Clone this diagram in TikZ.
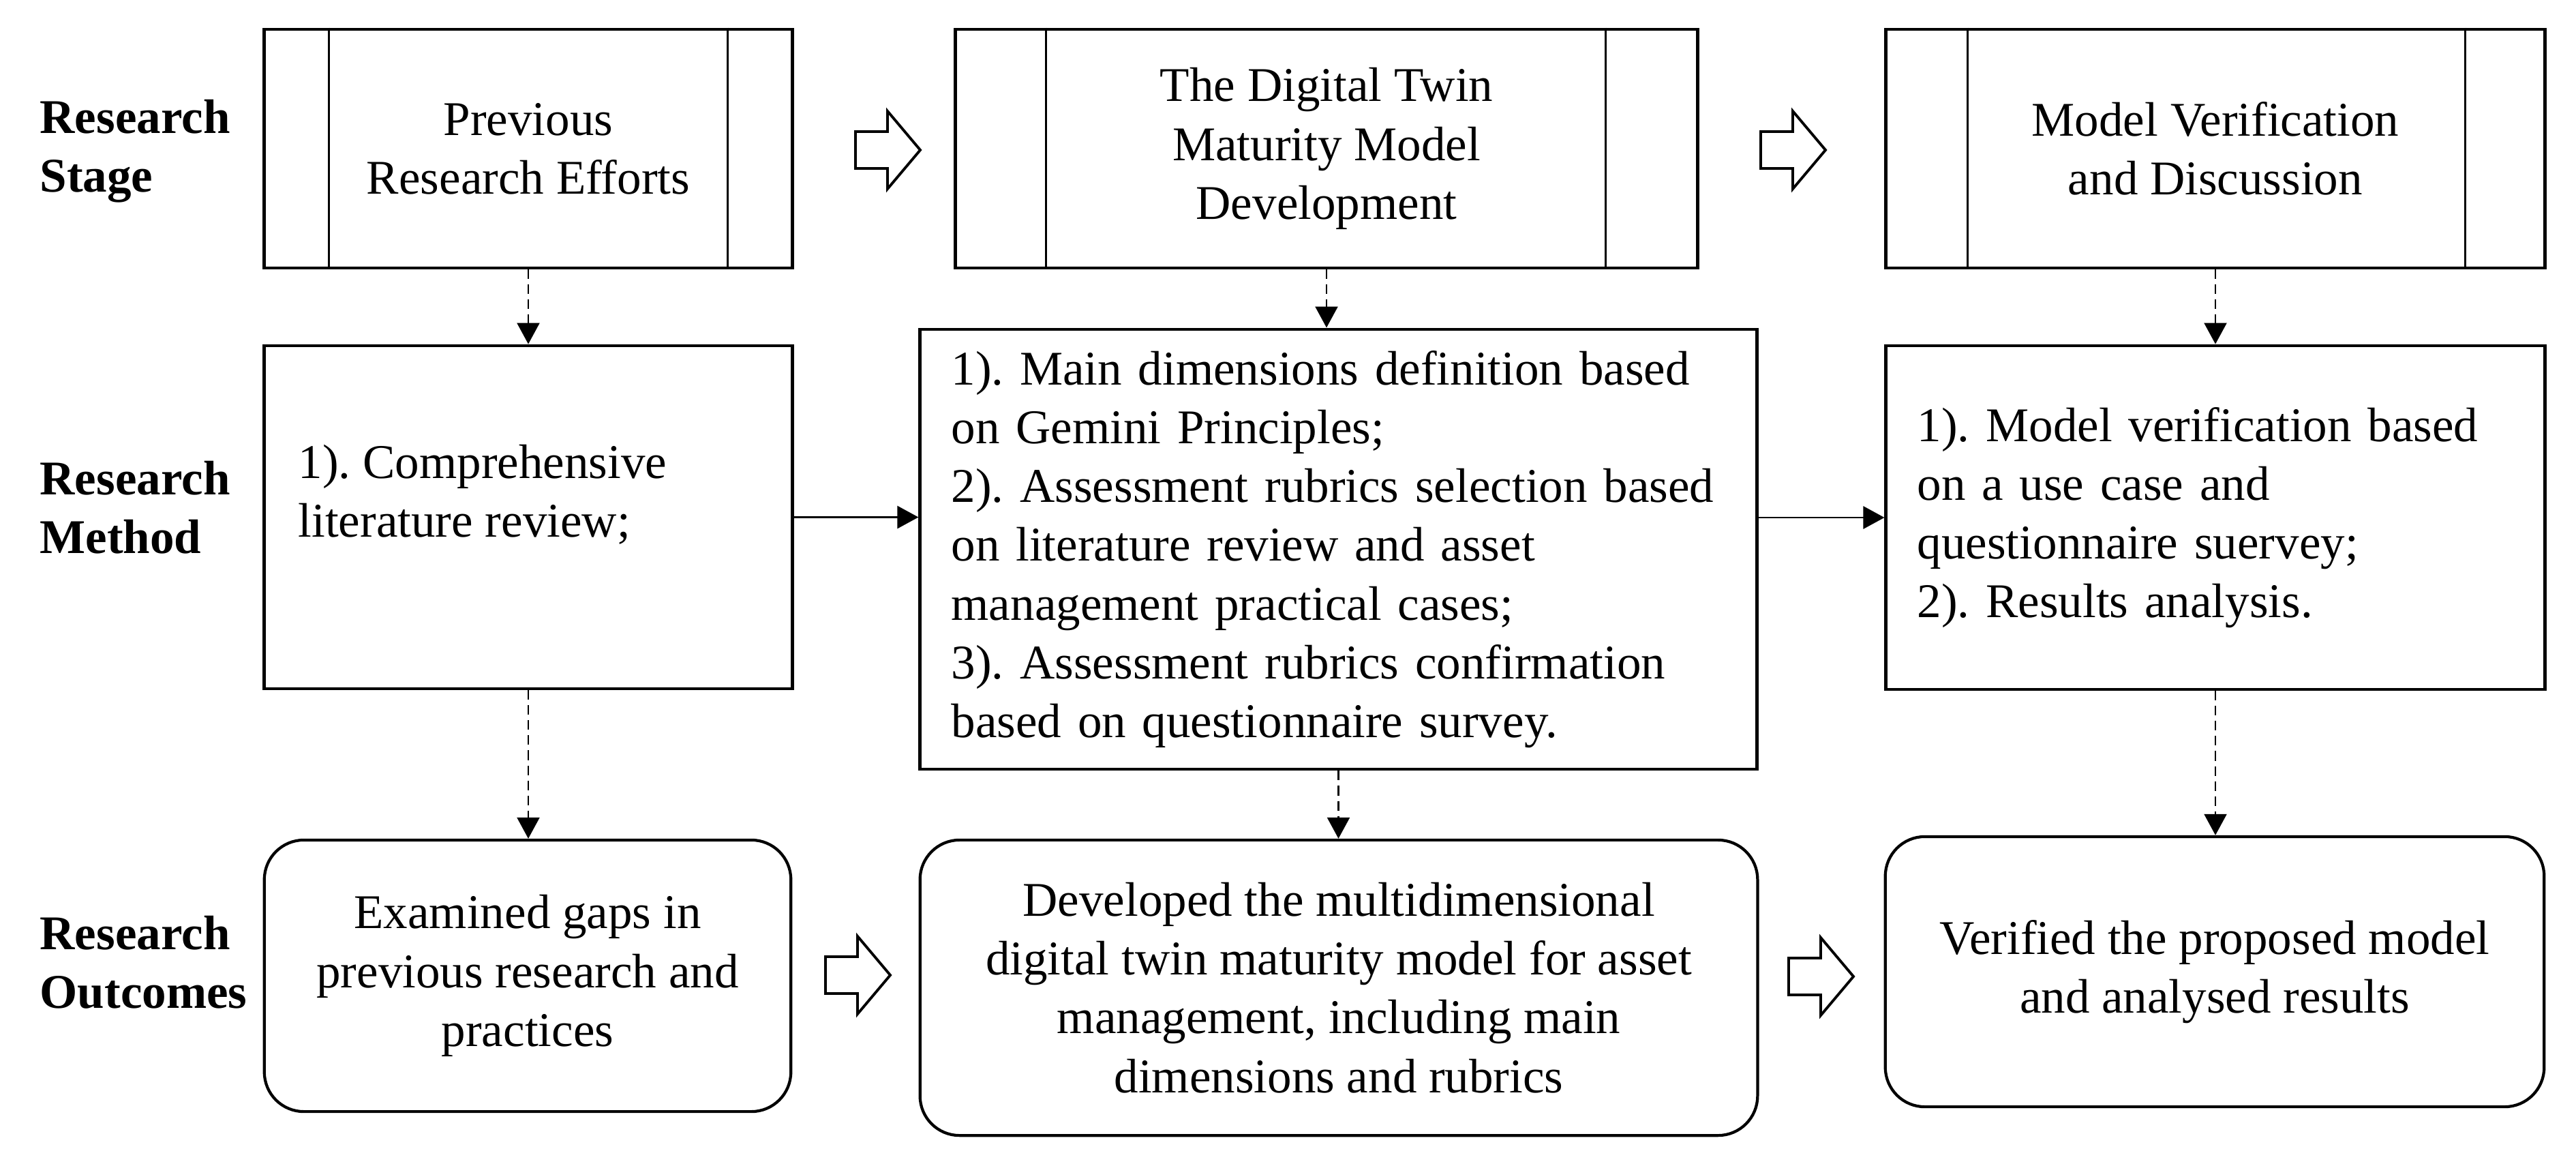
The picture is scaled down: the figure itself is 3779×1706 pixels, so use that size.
\documentclass[tikz,border=0pt]{standalone}
\usepackage{fontspec}
\setmainfont{Liberation Serif}
\usetikzlibrary{arrows.meta}
\frenchspacing
\newcommand{\blockarr}[2]{%
  \draw[blk] (#1,#2) ++(0,-27) -- ++(47,0) -- ++(0,-30) -- ++(48,57) -- ++(-48,57) -- ++(0,-30) -- ++(-47,0) -- cycle;}
\begin{document}
\begin{tikzpicture}[x=0.01cm,y=-0.01cm,
  every node/.style={font=\fontsize{20.2pt}{24.5pt}\selectfont\frenchspacing},
  lbl/.style={inner sep=0pt, align=left, anchor=west, font=\fontsize{20.2pt}{24.5pt}\selectfont\bfseries},
  txtonly/.style={inner sep=0pt, align=left, anchor=west},
  stagebox/.style={draw, line width=1.3pt, rectangle, inner sep=0pt, align=center, minimum height=3.50cm},
  methodbox/.style={draw, line width=1.3pt, rectangle, inner ysep=0pt, inner xsep=0.46cm, align=left},
  outbox/.style={draw, line width=1.2pt, rounded corners=0.58cm, inner sep=0pt, align=center},
  dasharrow/.style={line width=0.7pt, dash pattern=on 0.14cm off 0.08cm, -{Triangle[length=0.31cm,width=0.33cm]}},
  solidarrow/.style={line width=0.8pt, -{Triangle[length=0.31cm,width=0.33cm]}},
  blk/.style={draw, line width=1.1pt, fill=white, line join=miter},
  innerline/.style={line width=1.1pt}
]
\useasboundingbox (0,0) rectangle (3779,1706);

% row labels
\node[lbl] (labS) at (58,222) {Research\\Stage};
\node[lbl] (labM) at (58,744) {Research\\Method};
\node[lbl] (labO) at (58,1411) {Research\\Outcomes};

% stage boxes
\node[stagebox, minimum width=7.74cm] (s1) at (775,218) {Previous\\Research Efforts};
\node[stagebox, minimum width=10.88cm] (s2) at (1946,218) {The Digital Twin\\Maturity Model\\Development};
\node[stagebox, minimum width=9.66cm] (s3) at (3250,218) {Model Verification\\and Discussion};
\draw[innerline] ([xshift=0.97cm]s1.north west) -- ([xshift=0.97cm]s1.south west);
\draw[innerline] ([xshift=-0.97cm]s1.north east) -- ([xshift=-0.97cm]s1.south east);
\draw[innerline] ([xshift=1.35cm]s2.north west) -- ([xshift=1.35cm]s2.south west);
\draw[innerline] ([xshift=-1.37cm]s2.north east) -- ([xshift=-1.37cm]s2.south east);
\draw[innerline] ([xshift=1.22cm]s3.north west) -- ([xshift=1.22cm]s3.south west);
\draw[innerline] ([xshift=-1.19cm]s3.north east) -- ([xshift=-1.19cm]s3.south east);

% method boxes
\node[methodbox, minimum width=7.75cm, minimum height=5.03cm] (m1) at (775,758.5) {};
\node[txtonly] (m1t) at (437,725) {1). Comprehensive\\literature review;};
\node[methodbox, minimum width=12.27cm, minimum height=6.45cm, text width=11.35cm] (m2) at (1963.5,805.5)
  {1). Main dimensions definition based\\on Gemini Principles;\\2). Assessment rubrics selection based\\on literature review and asset\\management practical cases;\\3). Assessment rubrics confirmation\\based on questionnaire survey.};
\node[methodbox, minimum width=9.66cm, minimum height=5.04cm, text width=8.74cm] (m3) at (3250,759)
  {1). Model verification based\\on a use case and\\questionnaire suervey;\\2). Results analysis.};

% outcome boxes
\node[outbox, minimum width=7.72cm, minimum height=3.98cm] (o1) at (774,1431) {Examined gaps in\\previous research and\\practices};
\node[outbox, minimum width=12.28cm, minimum height=4.33cm] (o2) at (1964,1448.5) {Developed the multidimensional\\digital twin maturity model for asset\\management, including main\\dimensions and rubrics};
\node[outbox, minimum width=9.66cm, minimum height=3.96cm] (o3) at (3249,1425) {Verified the proposed model\\and analysed results};

% dashed connectors
\draw[dasharrow] (s1.south) -- (s1.south |- m1.north);
\draw[dasharrow] (s2.south) -- (s2.south |- m2.north);
\draw[dasharrow] (s3.south) -- (s3.south |- m3.north);
\draw[dasharrow] (m1.south) -- (m1.south |- o1.north);
\draw[dasharrow] (m2.south) -- (m2.south |- o2.north);
\draw[dasharrow] (m3.south) -- (m3.south |- o3.north);

% solid connectors
\draw[solidarrow] (m1.east) -- (m1.east -| m2.west);
\draw[solidarrow] (m3.west -| m2.east) -- (m3.west);

% block arrows
\blockarr{1255}{220}
\blockarr{2583}{220}
\blockarr{1211}{1430}
\blockarr{2624}{1432}
\end{tikzpicture}
\end{document}
